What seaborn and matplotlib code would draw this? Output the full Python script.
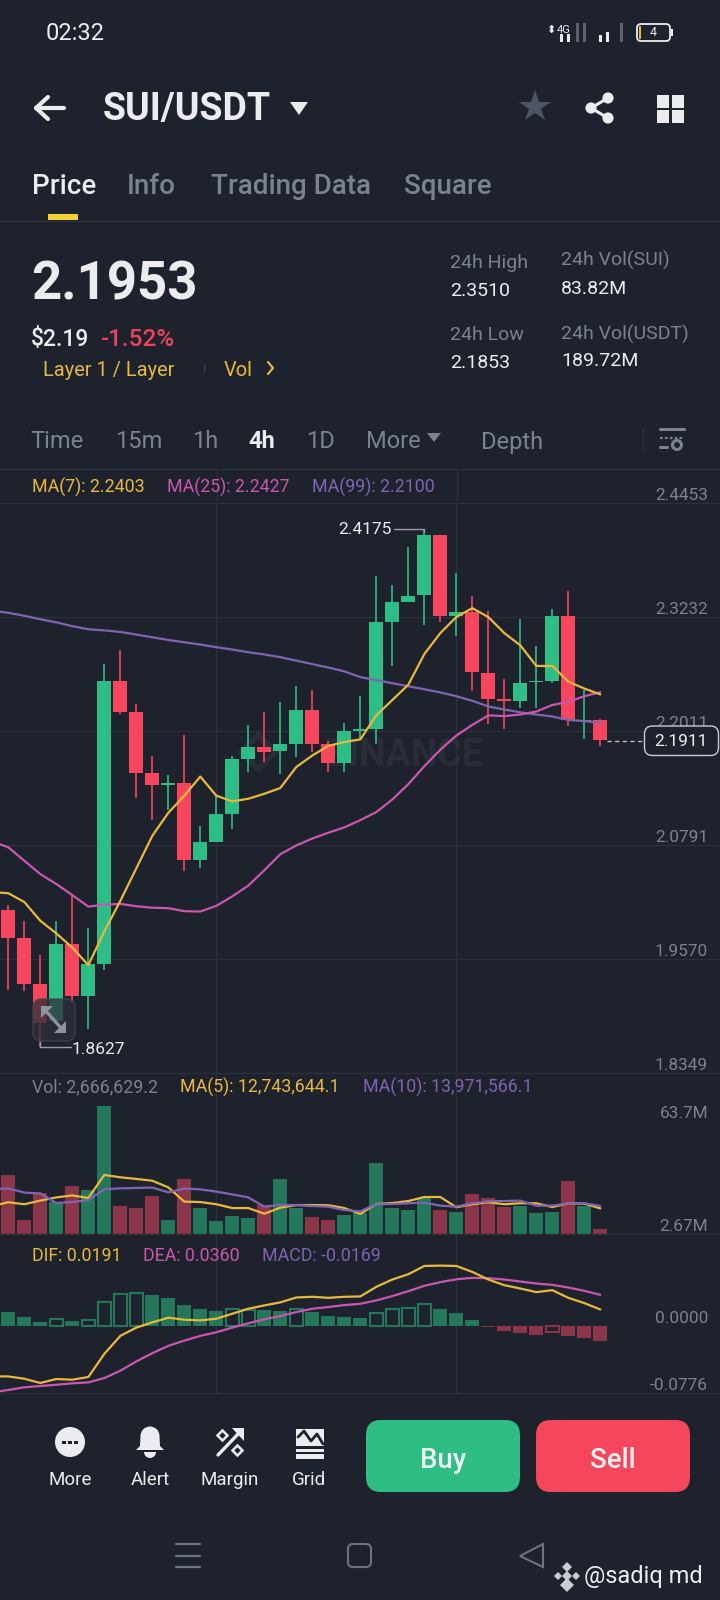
import matplotlib
matplotlib.use("Agg")
import matplotlib.pyplot as plt
import seaborn as sns
import numpy as np
from matplotlib.patches import FancyBboxPatch, Rectangle, Circle, Polygon, Wedge

# candles
opens = [2.0090, 1.9791, 1.9299, 1.8902, 1.9729, 1.9176, 1.9516, 2.2548, 2.2216, 2.1561,
         2.1438, 2.1454, 2.0631, 2.0827, 2.1122, 2.1708, 2.1839, 2.1794, 2.1872, 2.2241,
         2.1872, 2.1667, 2.2011, 2.2028, 2.3175, 2.3392, 2.3466, 2.4113, 2.3240, 2.3286,
         2.2630, 2.2351, 2.2331, 2.2536, 2.2552, 2.3245, 2.2114, 2.2126]
highs = [2.0151, 1.9975, 1.9611, 1.9975, 2.0254, 1.9897, 2.2724, 2.2884, 2.2298, 2.1741,
         2.1536, 2.1970, 2.0999, 2.1339, 2.1741, 2.2077, 2.2220, 2.2323, 2.2495, 2.2454,
         2.1905, 2.2097, 2.2384, 2.3667, 2.3572, 2.3978, 2.4175, 2.4113, 2.3703, 2.3458,
         2.3298, 2.2564, 2.3212, 2.2917, 2.3314, 2.3511, 2.2446, 2.2138]
lows = [1.9238, 1.9230, 1.8627, 1.8881, 1.9107, 1.8820, 1.9455, 2.2192, 2.1298, 2.1061,
        2.1167, 2.0508, 2.0541, 2.0827, 2.0958, 2.1573, 2.1675, 2.1553, 2.1733, 2.1790,
        2.1569, 2.1573, 2.1913, 2.1872, 2.2712, 2.3392, 2.3142, 2.3175, 2.3032, 2.2437,
        2.2089, 2.2028, 2.2253, 2.2261, 2.2528, 2.2065, 2.1925, 2.1852]
closes = [1.9795, 1.9299, 1.8881, 1.9729, 1.9176, 1.9516, 2.2548, 2.2216, 2.1565, 2.1438,
          2.1454, 2.0631, 2.0827, 2.1122, 2.1712, 2.1839, 2.1790, 2.1872, 2.2241, 2.1872,
          2.1667, 2.2011, 2.2028, 2.3175, 2.3388, 2.3458, 2.4113, 2.3240, 2.3281, 2.2638,
          2.2351, 2.2331, 2.2528, 2.2552, 2.3245, 2.2126, 2.2130, 2.1911]

# moving averages start one candle earlier, off the left edge
ma7 = [2.0287, 2.0274, 2.0180, 1.9979, 1.9844, 1.9692, 1.9504, 1.9865, 2.0192, 2.0541,
       2.0889, 2.1135, 2.1319, 2.1524, 2.1319, 2.1258, 2.1286, 2.1339, 2.1401, 2.1626,
       2.1749, 2.1852, 2.1893, 2.1921, 2.2179, 2.2343, 2.2507, 2.2835, 2.3060, 2.3232,
       2.3327, 2.3232, 2.3060, 2.2929, 2.2708, 2.2708, 2.2540, 2.2466, 2.2403]
ma25 = [2.0827, 2.0766, 2.0622, 2.0479, 2.0373, 2.0254, 2.0131, 2.0151, 2.0160, 2.0135,
        2.0119, 2.0114, 2.0082, 2.0078, 2.0139, 2.0241, 2.0356, 2.0520, 2.0692, 2.0786,
        2.0860, 2.0922, 2.0979, 2.1057, 2.1143, 2.1278, 2.1442, 2.1634, 2.1811, 2.1962,
        2.2077, 2.2179, 2.2171, 2.2188, 2.2220, 2.2290, 2.2323, 2.2384, 2.2427]
ma99 = [2.3298, 2.3277, 2.3245, 2.3208, 2.3175, 2.3134, 2.3101, 2.3089, 2.3072, 2.3044,
        2.3015, 2.2986, 2.2962, 2.2937, 2.2909, 2.2884, 2.2855, 2.2831, 2.2802, 2.2765,
        2.2728, 2.2691, 2.2650, 2.2589, 2.2556, 2.2523, 2.2491, 2.2458, 2.2425, 2.2384,
        2.2335, 2.2274, 2.2241, 2.2212, 2.2188, 2.2167, 2.2130, 2.2118, 2.2100]

# volume, millions
volumes = [29.2, 7.0, 20.2, 16.1, 23.7, 21.9, 63.7, 14.1, 12.8, 19.1, 7.1, 27.4, 13.1, 6.6,
           9.0, 7.8, 14.4, 27.4, 12.8, 8.5, 7.0, 9.5, 10.3, 35.2, 13.1, 11.9, 17.8, 11.9,
           10.8, 19.9, 17.8, 13.6, 14.1, 10.3, 10.9, 26.2, 13.9, 2.67]
vol_ma5 = [13.9, 15.8, 14.8, 16.6, 18.2, 19.2, 17.9, 29.4, 28.2, 27.4, 26.5, 23.2, 16.1, 15.9,
           14.8, 12.9, 12.9, 10.1, 13.1, 14.4, 14.4, 14.3, 12.9, 10.0, 14.9, 15.4, 16.4, 18.4,
           18.4, 13.3, 14.8, 15.8, 14.8, 15.3, 15.3, 13.4, 15.3, 15.1, 12.74]
vol_ma10 = [22.2, 22.7, 20.6, 20.2, 15.4, 15.9, 16.9, 22.2, 22.7, 22.9, 23.1, 20.7, 22.6, 22.2,
            21.1, 19.7, 18.2, 13.6, 14.4, 14.4, 13.9, 13.6, 11.9, 11.3, 14.8, 14.9, 15.3, 15.6,
            14.1, 13.6, 15.3, 16.3, 16.4, 16.6, 14.1, 14.1, 15.3, 15.3, 13.97]

# macd panel
macd = [0.0157, 0.0108, 0.0050, 0.0081, 0.0054, 0.0073, 0.0280, 0.0376, 0.0384, 0.0357,
        0.0326, 0.0242, 0.0192, 0.0173, 0.0192, 0.0184, 0.0184, 0.0177, 0.0192, 0.0157,
        0.0115, 0.0104, 0.0088, 0.0150, 0.0196, 0.0207, 0.0250, 0.0196, 0.0150, 0.0069,
        -0.0012, -0.0061, -0.0084, -0.0100, -0.0073, -0.0111, -0.0138, -0.0169]
macd_hollow = [3, 5, 6, 7, 8, 14, 15, 18, 23, 24, 25, 26, 34]
dif = [-0.0584, -0.0584, -0.0611, -0.0660, -0.0614, -0.0622, -0.0591, -0.0323, -0.0115, -0.0019,
       0.0042, 0.0096, 0.0073, 0.0065, 0.0084, 0.0142, 0.0200, 0.0238, 0.0273, 0.0330,
       0.0338, 0.0326, 0.0338, 0.0342, 0.0453, 0.0538, 0.0599, 0.0695, 0.0699, 0.0695,
       0.0626, 0.0538, 0.0472, 0.0434, 0.0392, 0.0415, 0.0326, 0.0265, 0.0191]
dea = [-0.0768, -0.0741, -0.0710, -0.0695, -0.0680, -0.0664, -0.0653, -0.0603, -0.0518, -0.0411,
       -0.0315, -0.0230, -0.0169, -0.0115, -0.0073, -0.0019, 0.0031, 0.0077, 0.0115, 0.0161,
       0.0200, 0.0219, 0.0242, 0.0257, 0.0296, 0.0346, 0.0403, 0.0465, 0.0507, 0.0541,
       0.0557, 0.0553, 0.0538, 0.0515, 0.0492, 0.0476, 0.0445, 0.0407, 0.0360]

price_ticks = [2.4453, 2.3232, 2.2011, 2.0791, 1.9570, 1.8349]
vol_ticks = [0, 63.7]
vol_tick_labels = ["2.67M", "63.7M"]
macd_ticks = [-0.0776, 0.0]
macd_tick_labels = ["-0.0776", "0.0000"]
time_grid = [13, 28]

BG = "#1d222c"
GRID = "#2b303b"
GREEN = "#2ebd85"
RED = "#f6465d"
DARK_GREEN = "#25775c"
DARK_RED = "#8a3548"
GRAY = "#7c8390"
WHITE = "#eaecef"
YELLOW = "#e8b93c"
MAGENTA = "#c957b0"
PURPLE = "#7f64b3"

sns.set_theme(style="dark", rc={"axes.facecolor": "none", "figure.facecolor": BG, "patch.force_edgecolor": False})
plt.rcParams['font.family'] = ['Roboto', 'DejaVu Sans']

W, H = 720, 1600
fig = plt.figure(figsize=(W / 100, H / 100), dpi=100, facecolor=BG)

def panel(top, bottom):
    a = fig.add_axes([0, 1 - bottom / H, 1, (bottom - top) / H])
    a.set_facecolor("none")
    a.set_xlim(-0.52, 44.48)
    return a

candle_idx = np.arange(len(opens))
line_idx = np.arange(-1, len(opens))

# watermark sits behind the candles
ax_back = fig.add_axes([0, 0, 1, 1], zorder=-1)
ax_back.set_xlim(0, W)
ax_back.set_ylim(H, 0)
ax_back.axis("off")
ax_back.text(484, 755, "BINANCE", color="#282d38", fontsize=27, fontweight="bold", ha="right", va="center")
ax_back.plot([258], [752], marker="D", ms=17, mfc="none", mec="#282d38", mew=4)

# price panel
ax_price = panel(503, 1073)
up = [c >= o for o, c in zip(opens, closes)]
colors = [GREEN if u else RED for u in up]
ax_price.vlines(candle_idx, lows, highs, colors=colors, lw=1.2, zorder=2)
ax_price.bar(candle_idx, np.abs(np.array(closes) - np.array(opens)), bottom=np.minimum(opens, closes),
             width=0.89, color=colors, lw=0, zorder=3)
for vals, col in [(ma99, PURPLE), (ma25, MAGENTA), (ma7, YELLOW)]:
    sns.lineplot(x=line_idx, y=vals, ax=ax_price, color=col, lw=1.6, errorbar=None, legend=False, zorder=4)
ax_price.set_xlim(-0.52, 44.48)
ax_price.set_ylim(1.8349, 2.4453)
ax_price.set_yticks(price_ticks)
ax_price.set_yticklabels(["%.4f" % t for t in price_ticks], ha="right", va="bottom", color=GRAY, fontsize=12.4)

# volume panel
ax_vol = panel(1073, 1234)
sns.barplot(x=candle_idx, y=volumes, hue=["up" if u else "down" for u in up],
            palette={"up": DARK_GREEN, "down": DARK_RED}, dodge=False, native_scale=True,
            width=0.89, saturation=1, legend=False, ax=ax_vol, zorder=2, linewidth=0)
sns.lineplot(x=line_idx, y=vol_ma5, ax=ax_vol, color=YELLOW, lw=1.6, errorbar=None, legend=False, zorder=3)
sns.lineplot(x=line_idx, y=vol_ma10, ax=ax_vol, color=PURPLE, lw=1.6, errorbar=None, legend=False, zorder=4)
ax_vol.set_xlim(-0.52, 44.48)
ax_vol.set_ylim(0, 80.1)
ax_vol.set_yticks(vol_ticks)
ax_vol.set_yticklabels(vol_tick_labels, ha="right", color=GRAY, fontsize=12.4)

# macd panel
ax_macd = panel(1234, 1393)
macd_col = [DARK_GREEN if m >= 0 else DARK_RED for m in macd]
solid = [i for i in candle_idx if i not in macd_hollow]
sns.barplot(x=solid, y=[macd[i] for i in solid], hue=["up" if macd[i] >= 0 else "down" for i in solid],
            palette={"up": DARK_GREEN, "down": DARK_RED}, dodge=False, native_scale=True,
            width=0.89, saturation=1, legend=False, ax=ax_macd, zorder=2, linewidth=0)
ax_macd.bar(macd_hollow, [macd[i] for i in macd_hollow], width=0.8, facecolor="none",
            edgecolor=[macd_col[i] for i in macd_hollow], lw=1.5, zorder=2)
sns.lineplot(x=line_idx, y=dea, ax=ax_macd, color=MAGENTA, lw=1.6, errorbar=None, legend=False, zorder=3)
sns.lineplot(x=line_idx, y=dif, ax=ax_macd, color=YELLOW, lw=1.6, errorbar=None, legend=False, zorder=4)
ax_macd.set_xlim(-0.52, 44.48)
ax_macd.set_ylim(-0.0776, 0.1065)
ax_macd.set_yticks(macd_ticks)
ax_macd.set_yticklabels(macd_tick_labels, ha="right", va="bottom", color=GRAY, fontsize=12.4)

for a in [ax_price, ax_vol, ax_macd]:
    a.set(xlabel="", ylabel="")
    a.yaxis.tick_right()
    a.tick_params(axis="y", pad=-8.6, length=0, labelright=True, labelleft=False)
    a.tick_params(axis="x", length=0, labelbottom=False)
    a.set_xticks(time_grid)
    a.grid(axis="x", color=GRID, lw=0.9, zorder=0)
    a.set_axisbelow(True)
    for s in ["top", "left", "right"]:
        a.spines[s].set_visible(False)
    a.spines["bottom"].set_color(GRID)
    a.spines["bottom"].set_linewidth(0.9)
ax_price.grid(axis="y", color=GRID, lw=0.9)

# the right side labels are label2 once tick_right is on
vol_tick_objs = ax_vol.yaxis.get_major_ticks()
vol_tick_objs[0].label2.set_va("bottom")
vol_tick_objs[1].label2.set_va("top")
vol_tick_objs[1].label2.set_y(63.7)

# everything around the chart goes on a pixel overlay
ui = fig.add_axes([0, 0, 1, 1], zorder=5)
ui.set_xlim(0, W)
ui.set_ylim(H, 0)
ui.axis("off")

def txt(x, y, s, col=WHITE, size=12, weight="normal", ha="left"):
    ui.text(x, y + 2, s, color=col, fontsize=size, fontweight=weight, ha=ha, va="center")

# status bar
txt(46, 31, "02:32", size=17)
txt(557, 28, "4G", size=8)
ui.text(551, 30, "⬍", color=WHITE, fontsize=8, ha="center", va="center", family="DejaVu Sans")
for x, h, c in [(561, 8, WHITE), (568, 8, WHITE), (577, 19, "#5c6370"), (584, 19, "#5c6370"),
                (600, 7, WHITE), (607, 10, WHITE), (621, 19, "#5c6370")]:
    ui.add_patch(Rectangle((x - 1.5, 42 - h), 3.4, h, color=c, lw=0))
ui.add_patch(FancyBboxPatch((637, 24), 33, 17, boxstyle="round,pad=0,rounding_size=4", fc="none", ec=WHITE, lw=1.3))
ui.add_patch(Rectangle((639, 26), 2, 13, color=YELLOW, lw=0))
ui.add_patch(Rectangle((671, 29), 2, 7, color=WHITE, lw=0))
txt(653, 30.5, "4", size=9, ha="center")

# header
ui.plot([36, 64], [108, 108], color=WHITE, lw=3, solid_capstyle="round")
ui.plot([48, 36, 48], [97, 108, 119], color=WHITE, lw=3, solid_capstyle="round", solid_joinstyle="round")
txt(103, 108, "SUI/USDT", size=27, weight="bold")
ui.add_patch(Polygon([(290, 102), (308, 102), (299, 115)], closed=True, color=WHITE, lw=0))
ui.plot([535], [107], marker="*", ms=24, color="#4d5463", mew=0)
for cx, cy in [(591, 108), (608, 98), (608, 118)]:
    ui.add_patch(Circle((cx, cy), 5.6, color=WHITE, lw=0))
ui.plot([608, 591, 608], [98, 108, 118], color=WHITE, lw=2.2)
for x0 in [657, 672]:
    for y0 in [95, 110]:
        ui.add_patch(Rectangle((x0, y0), 12, 12.5, color=WHITE, lw=0))

# tabs
txt(32, 184, "Price", size=20, weight="medium")
txt(127, 184, "Info", GRAY, 20, "medium")
txt(211, 184, "Trading Data", GRAY, 20, "medium")
txt(404, 184, "Square", GRAY, 20, "medium")
ui.add_patch(Rectangle((48, 214), 30, 6, color="#f0cf3a", lw=0))
ui.plot([0, W], [220.5, 220.5], color=GRID, lw=1)

# quote block
txt(31, 283, "2.1953", size=38, weight="bold")
txt(31, 337, "$2.19", size=16.5, weight="medium")
txt(100, 337, "-1.52%", "#e8445a", 17.5, "medium")
txt(43, 368, "Layer 1 / Layer", YELLOW, 14.4)
ui.plot([204, 204], [364, 372], color="#3a404c", lw=1)
txt(224, 368, "Vol", YELLOW, 14.4)
ui.plot([268, 273, 268], [362, 368, 374], color=YELLOW, lw=1.6)
txt(450, 261, "24h High", GRAY, 14)
txt(450, 289, "2.3510", WHITE, 14)
txt(450, 333, "24h Low", GRAY, 14)
txt(450, 361, "2.1853", WHITE, 14)
txt(561, 258, "24h Vol(SUI)", GRAY, 14)
txt(561, 287, "83.82M", WHITE, 14)
txt(561, 332, "24h Vol(USDT)", GRAY, 14)
txt(561, 359, "189.72M", WHITE, 14)

# interval row
for x, s in [(30, "Time"), (115, "15m"), (192, "1h"), (306, "1D"), (366, "More"), (481, "Depth")]:
    txt(x, 440, s, GRAY, 17)
txt(248, 440, "4h", WHITE, 17, "bold")
ui.add_patch(Polygon([(427, 433), (441, 433), (434, 442)], closed=True, color=GRAY, lw=0))
ui.plot([643, 643], [427, 450], color=GRID, lw=1)
ui.plot([660, 684], [429, 429], color=GRAY, lw=2.2)
ui.plot([660, 684], [438, 438], color=GRAY, lw=1.6, ls=(0, (1.2, 1)))
ui.plot([660, 667], [447, 447], color=GRAY, lw=2.2)
ui.add_patch(Circle((677, 445), 4.5, fc="none", ec=GRAY, lw=2.2))
ui.plot([0, W], [468.5, 468.5], color=GRID, lw=1)
ui.plot([216.7, 216.7], [468, 503], color=GRID, lw=0.9)
ui.plot([456.7, 456.7], [468, 503], color=GRID, lw=0.9)

# panel legends
txt(32, 485, "MA(7): 2.2403", YELLOW, 12.8)
txt(167, 485, "MA(25): 2.2427", MAGENTA, 12.8)
txt(312, 485, "MA(99): 2.2100", PURPLE, 12.8)
txt(32, 1085, "Vol: 2,666,629.2", GRAY, 12.8)
txt(180, 1085, "MA(5): 12,743,644.1", YELLOW, 12.8)
txt(363, 1085, "MA(10): 13,971,566.1", PURPLE, 12.8)
txt(32, 1254, "DIF: 0.0191", YELLOW, 12.8)
txt(143, 1254, "DEA: 0.0360", MAGENTA, 12.8)
txt(262, 1254, "MACD: -0.0169", PURPLE, 12.8)

# high / low / last price callouts
txt(392, 528, "2.4175", WHITE, 12.5, ha="right")
ui.plot([394, 424, 424], [529, 529, 532], color="#9aa0aa", lw=1)
txt(72, 1047, "1.8627", WHITE, 12.5)
ui.plot([40, 40, 71], [1042, 1047, 1047], color="#9aa0aa", lw=1)
ui.plot([607, 644], [740.5, 740.5], color="#b5bac2", lw=1, ls=(0, (3, 2.5)))
ui.add_patch(FancyBboxPatch((644.5, 726), 74, 29.5, boxstyle="round,pad=0,rounding_size=8", fc=BG, ec="#c9ccd2", lw=1))
txt(681, 739, "2.1911", WHITE, 12.5, ha="center")

# expand chart button
ui.add_patch(FancyBboxPatch((33, 999), 42, 42, boxstyle="round,pad=0,rounding_size=9",
                            fc="#2a2f39", ec="#3d434f", lw=1.2, alpha=0.75))
ui.plot([45, 62], [1010, 1029], color="#8d94a0", lw=2.4)
ui.add_patch(Polygon([(41, 1006), (53, 1006), (41, 1018)], color="#8d94a0", lw=0))
ui.add_patch(Polygon([(66, 1033), (54, 1033), (66, 1021)], color="#8d94a0", lw=0))

# bottom toolbar
ui.add_patch(Circle((70, 1442), 15, color=WHITE, lw=0))
for dx in [-6, 0, 6]:
    ui.add_patch(Rectangle((70 + dx - 1.6, 1440.5), 3.2, 3.2, color=BG, lw=0))
# bell
ui.add_patch(Wedge((150, 1436), 9.5, 180, 360, color=WHITE, lw=0))
ui.add_patch(Polygon([(140.5, 1436), (159.5, 1436), (160, 1446), (164, 1450), (136, 1450), (140, 1446)], color=WHITE, lw=0))
ui.add_patch(Wedge((150, 1452), 6, 0, 180, color=WHITE, lw=0))
# margin
ui.plot([218, 240], [1455, 1432], color=WHITE, lw=2.4)
ui.add_patch(Polygon([(232, 1428), (244, 1428), (244, 1441)], color=WHITE, lw=0))
ui.plot([222], [1435], marker="D", ms=5, mfc="none", mec=WHITE, mew=1.8)
ui.plot([237], [1450], marker="D", ms=5, mfc="none", mec=WHITE, mew=1.8)
# grid
ui.add_patch(Rectangle((296, 1429), 28, 17, color=WHITE, lw=0))
ui.plot([298, 304, 311, 317, 323], [1437, 1431, 1441, 1434, 1444], color=BG, lw=2)
ui.add_patch(Rectangle((296, 1449), 28, 2.5, color=WHITE, lw=0))
ui.add_patch(Rectangle((296, 1454), 28, 4.5, color=WHITE, lw=0))
for x, s in [(70, "More"), (150, "Alert"), (230, "Margin"), (309, "Grid")]:
    txt(x, 1478, s, WHITE, 13.5, ha="center")
ui.add_patch(FancyBboxPatch((366, 1420), 154, 72, boxstyle="round,pad=0,rounding_size=15", color=GREEN, lw=0))
ui.add_patch(FancyBboxPatch((536, 1420), 154, 72, boxstyle="round,pad=0,rounding_size=15", color=RED, lw=0))
txt(443, 1458, "Buy", "#eef7f3", 20, "medium", "center")
txt(613, 1458, "Sell", "#fdeef0", 20, "medium", "center")

# android nav bar + watermark
for y in [1544, 1556, 1567]:
    ui.plot([176, 200], [y, y], color="#6b7280", lw=1.6)
ui.add_patch(FancyBboxPatch((348, 1544), 23, 23, boxstyle="round,pad=0,rounding_size=5", fc="none", ec="#6b7280", lw=1.5))
ui.add_patch(Polygon([(543, 1544), (543, 1567), (520, 1556)], closed=True, fc="none", ec="#6b7280", lw=1.5))
for dx, dy, s in [(0, -9, 5), (-9, 0, 4), (9, 0, 4), (0, 0, 5), (0, 9, 7)]:
    ui.plot([567 + dx], [1576 + dy], marker="D", ms=s, color="#c9ccd2", mew=0)
txt(584, 1575, "@sadiq md", WHITE, 17)

plt.savefig("out.png", dpi=100, facecolor=BG)
